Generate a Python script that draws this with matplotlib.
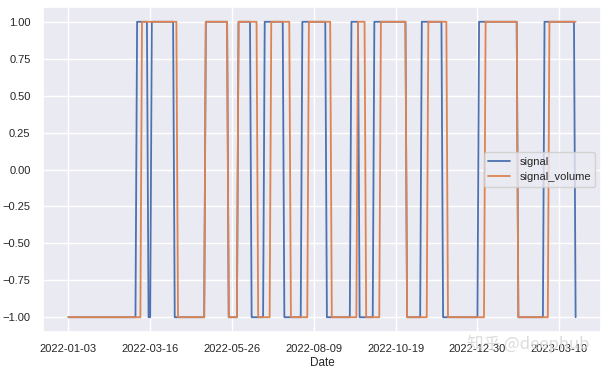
import numpy as np
import matplotlib
matplotlib.use("Agg")
import matplotlib.pyplot as plt
import seaborn as sns

# trading-day rows, ticks every 50 rows
n_rows = 311
tick_rows = [0, 50, 100, 150, 200, 250, 300]
tick_labels = ["2022-01-03", "2022-03-16", "2022-05-26", "2022-08-09",
               "2022-10-19", "2022-12-30", "2023-03-10"]

# rows where each signal flips sign (both start at -1)
signal_flips = [42, 49, 51, 65, 84, 98, 104, 112, 120, 132, 143, 158,
                173, 178, 187, 207, 216, 229, 251, 275, 291, 310]
volume_flips = [45, 67, 84, 98, 104, 116, 124, 136, 147, 161, 177, 182,
                191, 207, 220, 232, 255, 275, 294]


def build(flips):
    vals = np.full(n_rows, -1.0)
    state = -1.0
    last = 0
    for f in flips:
        vals[last:f] = state
        state = -state
        last = f
    vals[last:] = state
    return vals


signal = build(signal_flips)
signal_volume = build(volume_flips)

sns.set_theme(style="darkgrid")
plt.rcParams['font.family'] = ['Liberation Sans', 'DejaVu Sans']

fig = plt.figure(figsize=(6.11, 3.69), dpi=100)
ax = fig.add_axes([0.0704, 0.1003, 0.9132, 0.8807])
x = np.arange(n_rows)
ax.plot(x, signal, color="#4c72b0", lw=1.3, label="signal")
ax.plot(x, signal_volume, color="#dd8452", lw=1.3, label="signal_volume")

ax.set_xticks(tick_rows)
ax.set_xticklabels(tick_labels)
ax.set_yticks(np.arange(-1, 1.01, 0.25))
ax.set_yticklabels([f"{v:.2f}".replace("-", "\u2212") for v in np.arange(-1, 1.01, 0.25)])
ax.tick_params(labelsize=8, pad=3)
ax.set_xlabel("Date", fontsize=8.5, labelpad=2)
ax.legend(loc="center right", fontsize=8)

fig.text(0.765, 0.055, "知乎 @deephub", fontsize=12, color="#d8d8d8", alpha=0.9,
         family=["Noto Sans CJK SC", "DejaVu Sans"])

fig.savefig("out.png", dpi=100)
